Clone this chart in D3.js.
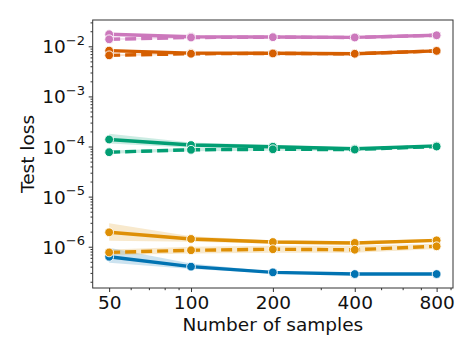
<!DOCTYPE html>
<html>
<head>
<meta charset="utf-8">
<script src="https://cdn.jsdelivr.net/npm/d3@7"></script>
<style>
  html, body { margin: 0; padding: 0; background: #fff; }
  svg { display: block; font-family: "DejaVu Sans", sans-serif; }
</style>
</head>
<body>
<svg id="chart" width="474" height="355"></svg>
<script>
// ---------- data ----------
const samples = [50, 100, 200, 400, 800];
const xTickLabels = ["50", "100", "200", "400", "800"];
const yTickExponents = [-6, -5, -4, -3, -2];

const blueSolid    = [6.3e-7, 4.0e-7, 3.08e-7, 2.85e-7, 2.85e-7];
const blueSolidLo  = [4.8e-7, 3.6e-7, 2.95e-7, 2.75e-7, 2.75e-7];
const blueSolidHi  = [9.5e-7, 4.6e-7, 3.2e-7, 2.95e-7, 2.95e-7];

const orangeSolid   = [1.94e-6, 1.43e-6, 1.24e-6, 1.19e-6, 1.34e-6];
const orangeSolidLo = [1.32e-6, 1.25e-6, 1.15e-6, 1.10e-6, 1.25e-6];
const orangeSolidHi = [2.93e-6, 1.62e-6, 1.33e-6, 1.28e-6, 1.43e-6];
const orangeDash    = [7.7e-7, 8.5e-7, 8.9e-7, 8.7e-7, 1.02e-6];
const orangeDashLo  = [6.8e-7, 7.3e-7, 7.6e-7, 7.6e-7, 9.0e-7];
const orangeDashHi  = [8.8e-7, 1.0e-6, 1.05e-6, 1.05e-6, 1.15e-6];

const greenSolid   = [1.38e-4, 1.07e-4, 9.9e-5, 9.0e-5, 1.03e-4];
const greenSolidLo = [1.15e-4, 9.5e-5, 9.2e-5, 8.4e-5, 9.7e-5];
const greenSolidHi = [1.8e-4, 1.2e-4, 1.07e-4, 9.6e-5, 1.09e-4];
const greenDash    = [7.7e-5, 8.6e-5, 8.8e-5, 8.7e-5, 1.0e-4];
const greenDashLo  = [7.2e-5, 8.0e-5, 8.2e-5, 8.1e-5, 9.4e-5];
const greenDashHi  = [8.3e-5, 9.3e-5, 9.4e-5, 9.3e-5, 1.06e-4];

const redSolid   = [8.2e-3, 7.3e-3, 7.25e-3, 7.1e-3, 8.1e-3];
const redSolidLo = [7.7e-3, 6.9e-3, 6.9e-3, 6.75e-3, 7.7e-3];
const redSolidHi = [8.7e-3, 7.7e-3, 7.6e-3, 7.45e-3, 8.5e-3];
const redDash    = [6.6e-3, 7.1e-3, 7.2e-3, 7.1e-3, 8.1e-3];
const redDashLo  = [6.3e-3, 6.8e-3, 6.9e-3, 6.8e-3, 7.7e-3];
const redDashHi  = [6.9e-3, 7.4e-3, 7.5e-3, 7.4e-3, 8.5e-3];

const pinkSolid   = [1.74e-2, 1.55e-2, 1.53e-2, 1.51e-2, 1.66e-2];
const pinkSolidLo = [1.65e-2, 1.47e-2, 1.46e-2, 1.44e-2, 1.58e-2];
const pinkSolidHi = [1.83e-2, 1.63e-2, 1.60e-2, 1.58e-2, 1.74e-2];
const pinkDash    = [1.38e-2, 1.50e-2, 1.52e-2, 1.50e-2, 1.66e-2];
const pinkDashLo  = [1.32e-2, 1.43e-2, 1.45e-2, 1.43e-2, 1.58e-2];
const pinkDashHi  = [1.44e-2, 1.57e-2, 1.59e-2, 1.57e-2, 1.74e-2];

const seriesColors = ["#0173b2", "#de8f05", "#029e73", "#d55e00", "#cc78bc"];

const series = [
  { v: blueSolid,   lo: blueSolidLo,   hi: blueSolidHi,   c: 0, dash: false },
  { v: orangeSolid, lo: orangeSolidLo, hi: orangeSolidHi, c: 1, dash: false },
  { v: orangeDash,  lo: orangeDashLo,  hi: orangeDashHi,  c: 1, dash: true },
  { v: greenSolid,  lo: greenSolidLo,  hi: greenSolidHi,  c: 2, dash: false },
  { v: greenDash,   lo: greenDashLo,   hi: greenDashHi,   c: 2, dash: true },
  { v: redSolid,    lo: redSolidLo,    hi: redSolidHi,    c: 3, dash: false },
  { v: redDash,     lo: redDashLo,     hi: redDashHi,     c: 3, dash: true },
  { v: pinkSolid,   lo: pinkSolidLo,   hi: pinkSolidHi,   c: 4, dash: false },
  { v: pinkDash,    lo: pinkDashLo,    hi: pinkDashHi,    c: 4, dash: true }
];

// ---------- layout ----------
const svg = d3.select("#chart");
const L = 92.7, R = 453, T = 20, B = 288;
const FS = 18.5;

const x = d3.scaleLog().domain([43.5, 919]).range([L, R]);
const y = d3.scaleLog().domain([1.5e-7, 0.0335]).range([B, T]);

const g = svg.append("g");

// bands
const area = d3.area()
  .x((d, i) => x(samples[i]))
  .y0(d => y(d[0]))
  .y1(d => y(d[1]));
series.forEach(s => {
  const pts = s.lo.map((lo, i) => [lo, s.hi[i]]);
  g.append("path").attr("d", area(pts))
    .attr("fill", seriesColors[s.c]).attr("fill-opacity", 0.2).attr("stroke", "none");
});

// lines and markers
const line = d3.line().x((d, i) => x(samples[i])).y(d => y(d));
series.forEach(s => {
  g.append("path").attr("d", line(s.v))
    .attr("fill", "none")
    .attr("stroke", seriesColors[s.c])
    .attr("stroke-width", 3.4)
    .attr("stroke-dasharray", s.dash ? "11,5" : null);
  g.selectAll(null).data(s.v).enter().append("circle")
    .attr("cx", (d, i) => x(samples[i]))
    .attr("cy", d => y(d))
    .attr("r", 4.4)
    .attr("fill", seriesColors[s.c])
    .attr("stroke", "#fff")
    .attr("stroke-width", 0.9);
});

// axes frame
const axisColor = "#333";
svg.append("rect").attr("x", L).attr("y", T).attr("width", R - L).attr("height", B - T)
  .attr("fill", "none").attr("stroke", axisColor).attr("stroke-width", 1);

// x axis
const xMinor = [60, 70, 80, 90, 300, 500, 600, 700, 900];
const xAxis = d3.axisBottom(x).tickValues(samples).tickFormat((d, i) => xTickLabels[i])
  .tickSize(4).tickPadding(3.5);
const xg = svg.append("g").attr("transform", `translate(0,${B})`).call(xAxis);
xg.select(".domain").remove();
xg.selectAll("line").attr("stroke", axisColor);
xg.selectAll("text").attr("font-size", FS).attr("fill", "#111")
  .attr("font-family", "DejaVu Sans");
const xmg = svg.append("g").attr("transform", `translate(0,${B})`)
  .call(d3.axisBottom(x).tickValues(xMinor).tickFormat("").tickSize(2.2));
xmg.select(".domain").remove();
xmg.selectAll("line").attr("stroke", axisColor);

// y axis
const yMajor = yTickExponents.map(e => Math.pow(10, e));
const yMinor = [];
for (let e = -8; e <= -1; e++) for (let k = 2; k <= 9; k++) {
  const v = k * Math.pow(10, e);
  if (v > 1.5e-7 && v < 0.0335) yMinor.push(v);
}
const yg = svg.append("g").attr("transform", `translate(${L},0)`)
  .call(d3.axisLeft(y).tickValues(yMajor).tickFormat("").tickSize(4));
yg.select(".domain").remove();
yg.selectAll("line").attr("stroke", axisColor);
const ymg = svg.append("g").attr("transform", `translate(${L},0)`)
  .call(d3.axisLeft(y).tickValues(yMinor).tickFormat("").tickSize(2.2));
ymg.select(".domain").remove();
ymg.selectAll("line").attr("stroke", axisColor);

// y tick labels with superscripts
yTickExponents.forEach(e => {
  const t = svg.append("text")
    .attr("x", 85).attr("y", y(Math.pow(10, e)) + 7)
    .attr("text-anchor", "end").attr("font-size", FS).attr("fill", "#111");
  t.append("tspan").text("10");
  t.append("tspan").attr("dy", -8.5).attr("font-size", 13).text("\u2212" + Math.abs(e));
});

// axis titles
svg.append("text").attr("x", (L + R) / 2).attr("y", 331)
  .attr("text-anchor", "middle").attr("font-size", FS).attr("fill", "#111")
  .text("Number of samples");
svg.append("text").attr("transform", `translate(33.5,${(T + B) / 2}) rotate(-90)`)
  .attr("text-anchor", "middle").attr("font-size", FS).attr("fill", "#111")
  .text("Test loss");
</script>
</body>
</html>
